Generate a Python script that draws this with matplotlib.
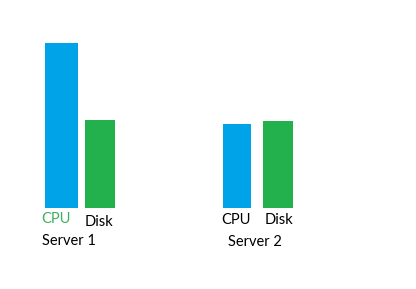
import matplotlib.pyplot as plt

# data
servers = ["Server 1", "Server 2"]
metrics = ["CPU", "Disk"]
cpu = [165, 84]
disk = [88, 87]

# layout (pixels, figure is 416x289)
W, H = 416, 289
base = 207.5
cpu_x = [61.3, 237.0]
cpu_w = [33, 28.5]
disk_x = [100.0, 278.0]
disk_w = [30, 29.5]

blue = "#00A2E8"
green = "#22B14C"

fig = plt.figure(figsize=(W / 100, H / 100), dpi=100)
ax = fig.add_axes([0, (H - base) / H, 1, base / H])
ax.set_xlim(0, W)
ax.set_ylim(0, base)
ax.axis("off")

ax.bar(cpu_x, cpu, width=cpu_w, color=blue)
ax.bar(disk_x, disk, width=disk_w, color=green)

fnt = dict(family="Lato", fontsize=10.5, va="center", ha="left", clip_on=False)

# labels under bars (y in pixels from top -> data)
def lbl(x, ypix, s, **kw):
    ax.text(x, base - ypix, s, **{**fnt, **kw})

lbl(41.5, 219, metrics[0], color="#3CB05A")
lbl(85, 221.5, metrics[1], color="black")
lbl(41.5, 241, servers[0], color="black")

lbl(221.5, 220, metrics[0], color="black")
lbl(265, 220, metrics[1], color="black")
lbl(228.5, 242.5, servers[1], color="black")

fig.savefig("out.png", dpi=100, facecolor="white")
